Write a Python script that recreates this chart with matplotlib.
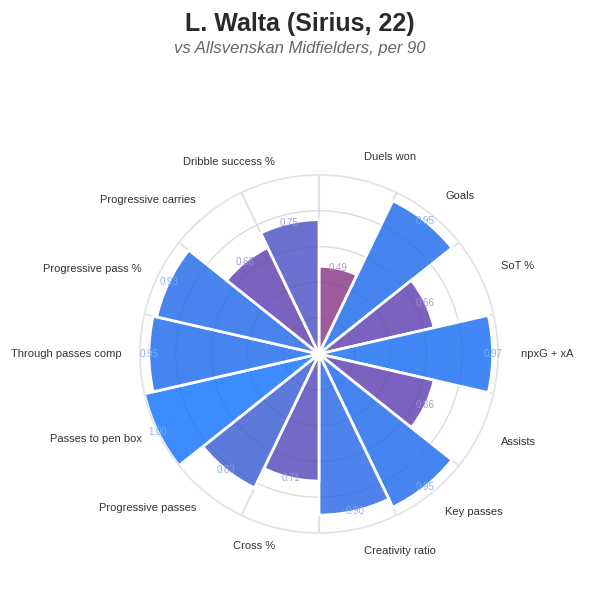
import numpy as np
import matplotlib.pyplot as plt
from matplotlib.colors import LinearSegmentedColormap, to_rgb

plt.rcParams['font.family'] = ['Liberation Sans', 'DejaVu Sans']

# percentile ranks, clockwise from the top
categories = ['Duels won', 'Goals', 'SoT %', 'npxG + xA', 'Assists', 'Key passes',
              'Creativity ratio', 'Cross %', 'Progressive passes', 'Passes to pen box',
              'Through passes comp', 'Progressive pass %', 'Progressive carries',
              'Dribble success %']
values = [0.49, 0.95, 0.66, 0.97, 0.66, 0.95, 0.90, 0.71, 0.83, 1.00, 0.95, 0.93, 0.66, 0.75]

title = 'L. Walta (Sirius, 22)'
subtitle = 'vs Allsvenskan Midfielders, per 90'

# colour scale from low (mauve) to high (bright blue)
cmap = LinearSegmentedColormap.from_list('pct', [
    (0.00, '#9c5c9c'),
    (0.33, '#7b62be'),
    (0.51, '#6c70ce'),
    (0.67, '#5c79dc'),
    (0.80, '#4f82ea'),
    (0.90, '#4685f0'),
    (1.00, '#3a8cff'),
])
def pct_color(v):
    return cmap((v - 0.49) / 0.51)

def lighter(c, f=0.3):
    r, g, b = to_rgb(c)
    return (r + (1 - r) * f, g + (1 - g) * f, b + (1 - b) * f)

n = len(categories)
width = 2 * np.pi / n
theta = np.arange(n) * width + width / 2

fig = plt.figure(figsize=(6, 6), dpi=100)
ax = fig.add_axes([0.2333, 0.1117, 0.5967, 0.5967], projection='polar')
ax.set_theta_zero_location('N')
ax.set_theta_direction(-1)
ax.set_ylim(0, 1)
ax.grid(False)
ax.set_xticks([])
ax.set_yticks([])
ax.spines['polar'].set_color('#e4e4e4')
ax.spines['polar'].set_linewidth(1.3)

circ = np.linspace(0, 2 * np.pi, 400)
for r in [0.2, 0.4, 0.6, 0.8]:
    ax.plot(circ, np.full_like(circ, r), color='#e8e8e8', lw=1, zorder=0.5)
    ax.plot(circ, np.full_like(circ, r), color='black', alpha=0.05, lw=1, zorder=3)
for a in np.arange(n) * width:
    ax.plot([a, a], [0, 1], color='#e2e2e2', lw=1.5, zorder=0.5)

colors = [pct_color(v) for v in values]
ax.bar(theta, values, width=width, color=colors, edgecolor='white', linewidth=2, zorder=2)

for t, v, c in zip(theta, values, colors):
    ax.text(t, v, f'{v:.2f}', color=lighter(c, 0.3), alpha=0.9, fontsize=7,
            ha='center', va='center', zorder=4)

for t, lab in zip(theta, categories):
    s = np.sin(t)
    ha = 'left' if s > 0.1 else ('right' if s < -0.1 else 'center')
    r = 1.13 if s > 0 else 1.10
    ax.text(t, r, lab, fontsize=8, color='#333333', ha=ha, va='center')

fig.text(0.5, 0.96, title, fontsize=18, fontweight='bold', color='#2a2a2a', ha='center', va='center')
fig.text(0.5, 0.919, subtitle, fontsize=12, style='italic', color='#666666', ha='center', va='center')

fig.savefig('out.png', dpi=100, facecolor='white')
